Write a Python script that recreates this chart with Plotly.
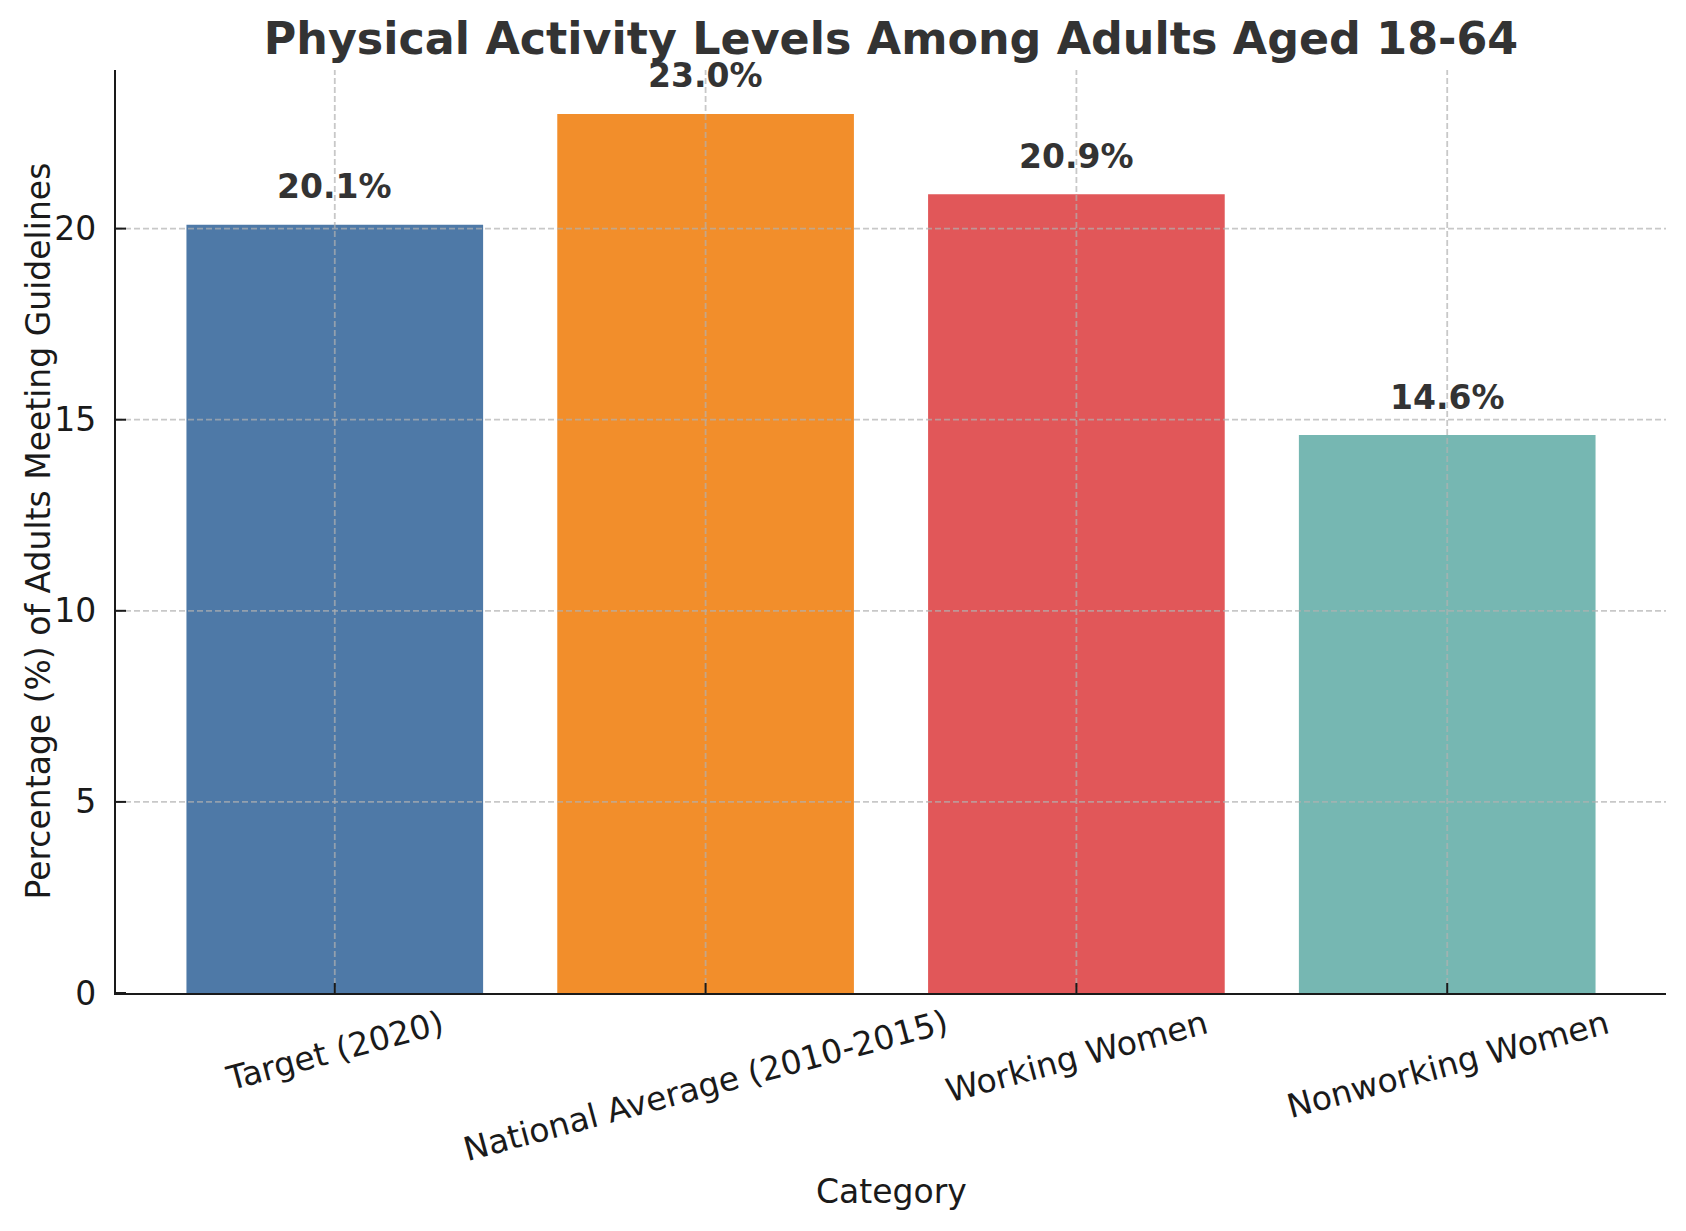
import plotly.graph_objects as go

# ---- data ----
categories = ["Target (2020)", "National Average (2010-2015)", "Working Women", "Nonworking Women"]
values = [20.1, 23.0, 20.9, 14.6]
bar_colors = ["#4E79A7", "#F28E2B", "#E15759", "#76B7B2"]
y_ticks = [0, 5, 10, 15, 20]

title_text = "Physical Activity Levels Among Adults Aged 18-64"
x_title = "Category"
y_title = "Percentage (%) of Adults Meeting Guidelines"

FONT = "DejaVu Sans"
W, H = 1686, 1231
L, R, T, B = 116, 20, 70, 238
INK = "#1a1a1a"

fig = go.Figure()
fig.add_trace(go.Bar(
    x=categories, y=values, width=0.8,
    marker=dict(color=bar_colors, line=dict(width=0)),
    showlegend=False, hoverinfo="x+y",
))

grid_color = "rgba(176,176,176,0.7)"
grid_dash = "6px,3px"
shapes = []
for t in y_ticks:
    if t == 0:
        continue
    shapes.append(dict(type="line", xref="paper", yref="y", x0=0, x1=1, y0=t, y1=t,
                       line=dict(color=grid_color, width=1.8, dash=grid_dash), layer="above"))
for c in categories:
    shapes.append(dict(type="line", xref="x", yref="paper", x0=c, x1=c, y0=0, y1=1,
                       line=dict(color=grid_color, width=1.8, dash=grid_dash), layer="above"))
# inside tick marks (drawn above bars, as in the reference)
for c in categories:
    shapes.append(dict(type="line", xref="x", yref="y", ysizemode="pixel", yanchor=0,
                       x0=c, x1=c, y0=0, y1=10, line=dict(color=INK, width=2), layer="above"))
for t in y_ticks:
    shapes.append(dict(type="line", xref="x", yref="y", xsizemode="pixel", xanchor=-0.59,
                       x0=0, x1=10, y0=t, y1=t, line=dict(color=INK, width=2), layer="above"))

annotations = []
# value labels
for c, v in zip(categories, values):
    annotations.append(dict(x=c, y=v, xref="x", yref="y", text=f"<b>{v:.1f}%</b>",
                            showarrow=False, xanchor="center", yanchor="middle", yshift=38,
                            font=dict(family=FONT, size=33, color="#333333")))
# rotated category labels
for c in categories:
    annotations.append(dict(x=c, y=0, xref="x", yref="y", text=c, textangle=-15,
                            showarrow=False, xanchor="center", yanchor="top", yshift=-7,
                            font=dict(family=FONT, size=33, color=INK)))
# axis titles
annotations.append(dict(x=0.5, y=0, xref="paper", yref="paper", text=x_title,
                        showarrow=False, xanchor="center", yanchor="middle", yshift=-(1191 - (H - B)),
                        font=dict(family=FONT, size=33, color=INK)))
annotations.append(dict(x=0, y=0.5, xref="paper", yref="paper", text=y_title, textangle=-90,
                        showarrow=False, xanchor="center", yanchor="middle", xshift=-(L - 38),
                        font=dict(family=FONT, size=33, color=INK)))

fig.update_layout(
    width=W, height=H,
    margin=dict(l=L, r=R, t=T, b=B, pad=0),
    paper_bgcolor="white", plot_bgcolor="white",
    font=dict(family=FONT, size=33, color=INK),
    title=dict(text=f"<b>{title_text}</b>", x=891 / W, xanchor="center",
               y=1 - 38.6 / H, yanchor="middle", yref="container",
               font=dict(family=FONT, size=44.4, color="#333333")),
    xaxis=dict(range=[-0.59, 3.59], showgrid=False, showline=True, linecolor=INK, linewidth=2.2,
               ticks="", showticklabels=False, layer="above traces", zeroline=False, fixedrange=True),
    yaxis=dict(range=[0, 24.15], tickvals=y_ticks, showgrid=False, showline=True, linecolor=INK,
               linewidth=2.2, ticks="", tickfont=dict(family=FONT, size=33, color=INK),
               ticklabelstandoff=11, layer="above traces", zeroline=False, fixedrange=True),
    shapes=shapes, annotations=annotations, bargap=0.2,
)

fig.write_html("out.html")
